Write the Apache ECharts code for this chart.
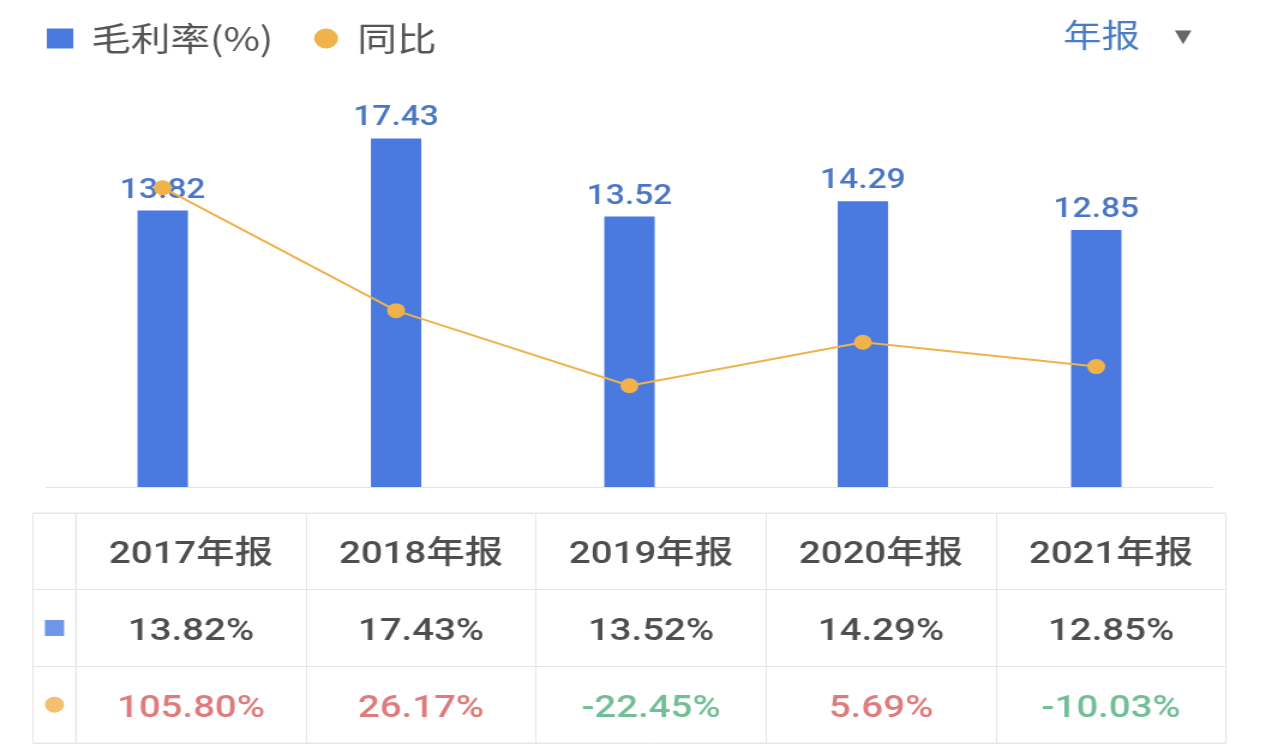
<!DOCTYPE html>
<html>
<head>
<meta charset="utf-8">
<script src="https://cdn.jsdelivr.net/npm/echarts@6/dist/echarts.min.js"></script>
<style>
html,body{margin:0;padding:0;background:#fff;overflow:hidden;}
#wrap{width:1267px;height:745px;overflow:hidden;position:relative;}
#chart{width:1056px;height:745px;transform:scaleX(1.2);transform-origin:0 0;}
</style>
</head>
<body>
<div id="wrap"><div id="chart"></div></div>
<script>
// ---- data ----
const categories = ['2017年报', '2018年报', '2019年报', '2020年报', '2021年报'];
const marginValues = [13.82, 17.43, 13.52, 14.29, 12.85];   // 毛利率(%)
const yoyValues = [105.80, 26.17, -22.45, 5.69, -10.03];    // 同比(%)
const seriesNames = ['毛利率(%)', '同比'];
const tableRows = ['header', 'margin', 'yoy'];
const periodLabel = '年报';

// ---- styles ----
const FONT = "Roboto, 'Noto Sans CJK SC', sans-serif";
const BLUE = '#4a7ae0';
const BLUE_LABEL = '#4b76c4';
const ORANGE = '#f0b24a';
const RED = '#d65a5a';
const GREEN = '#4fae7c';
const BORDER = '#e6e6e6';

const cellData = [];
categories.forEach((c, i) => {
  cellData.push({value: [c, 'header'], label: {formatter: c, color: '#222'}});
  cellData.push({value: [c, 'margin'], label: {formatter: marginValues[i].toFixed(2) + '%', color: '#222'}});
  cellData.push({value: [c, 'yoy'], label: {formatter: yoyValues[i].toFixed(2) + '%', color: yoyValues[i] >= 0 ? RED : GREEN}});
});

const chart = echarts.init(document.getElementById('chart'), null, {renderer: 'canvas'});
chart.setOption({
  animation: false,
  textStyle: {fontFamily: FONT},
  graphic: [
    {type: 'text', left: 886, top: 19, style: {text: periodLabel, fill: '#4a7cc4', font: "32px 'Noto Sans CJK SC', sans-serif"}},
    {type: 'text', left: 979, top: 28, style: {text: '▼', fill: '#666', font: "18px 'DejaVu Sans', sans-serif"}}
  ],
  legend: {
    left: 34, top: 17,
    itemGap: 34,
    textStyle: {fontSize: 33, color: '#555', fontFamily: "'Noto Sans CJK SC', sans-serif", padding: [0, 0, 0, 10]},
    data: [
      {name: seriesNames[0], icon: 'rect', itemStyle: {color: BLUE}},
      {name: seriesNames[1], icon: 'circle', itemStyle: {color: ORANGE}}
    ],
    itemWidth: 22, itemHeight: 20,
    selectedMode: false
  },
  grid: [
    {left: 38.3, right: 45.2, top: 87, height: 400},
    {left: 63.3, right: 34.3, top: 513, height: 230, show: true, borderColor: BORDER, borderWidth: 1},
    {left: 27.5, width: 35.8, top: 513, height: 230, show: true, borderColor: BORDER, borderWidth: 1}
  ],
  xAxis: [
    {type: 'category', data: categories, gridIndex: 0,
     axisLine: {show: true, lineStyle: {color: '#e3e3e3', width: 1}},
     axisTick: {show: false}, axisLabel: {show: false}},
    {type: 'category', data: categories, gridIndex: 1,
     axisLine: {show: false}, axisTick: {show: false}, axisLabel: {show: false},
     splitLine: {show: true, interval: 0, lineStyle: {color: BORDER}}},
    {type: 'category', data: ['icon'], gridIndex: 2,
     axisLine: {show: false}, axisTick: {show: false}, axisLabel: {show: false}}
  ],
  yAxis: [
    {type: 'value', gridIndex: 0, min: 0, max: 20, show: false},
    {type: 'value', gridIndex: 0, min: -88, max: 171, show: false},
    {type: 'category', data: tableRows, gridIndex: 1, inverse: true,
     axisLine: {show: false}, axisTick: {show: false}, axisLabel: {show: false},
     splitLine: {show: true, interval: 0, lineStyle: {color: BORDER}}},
    {type: 'category', data: tableRows, gridIndex: 2, inverse: true,
     axisLine: {show: false}, axisTick: {show: false}, axisLabel: {show: false},
     splitLine: {show: true, interval: 0, lineStyle: {color: BORDER}}}
  ],
  series: [
    {
      name: seriesNames[0], type: 'bar', xAxisIndex: 0, yAxisIndex: 0,
      data: marginValues, barWidth: 42, z: 2,
      itemStyle: {color: BLUE},
      label: {show: true, position: 'top', distance: 6, color: BLUE_LABEL, fontSize: 28, fontWeight: 500, fontFamily: FONT,
              formatter: p => p.value.toFixed(2)}
    },
    {
      name: seriesNames[1], type: 'line', xAxisIndex: 0, yAxisIndex: 1,
      data: yoyValues, z: 5,
      symbol: 'circle', symbolSize: 15,
      lineStyle: {color: ORANGE, width: 2},
      itemStyle: {color: ORANGE}
    },
    {
      name: 'cells', type: 'scatter', xAxisIndex: 1, yAxisIndex: 2,
      symbolSize: 0, data: cellData, silent: true,
      label: {show: true, position: 'inside', offset: [0, 4], fontSize: 32, fontWeight: 500, fontFamily: FONT}
    },
    {
      name: 'rowIcons', type: 'scatter', xAxisIndex: 2, yAxisIndex: 3, silent: true,
      data: [
        {value: ['icon', 'margin'], symbol: 'rect', symbolSize: [16, 16], itemStyle: {color: BLUE}},
        {value: ['icon', 'yoy'], symbol: 'circle', symbolSize: 16, itemStyle: {color: ORANGE}}
      ]
    }
  ]
});
</script>
</body>
</html>
